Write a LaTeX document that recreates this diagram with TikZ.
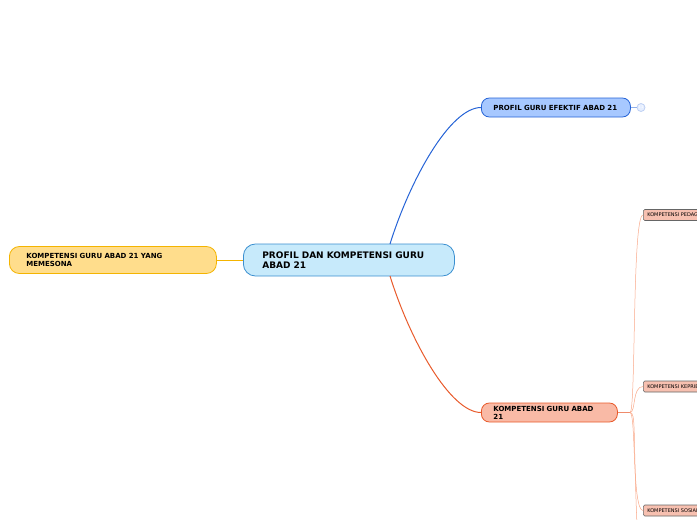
\documentclass[tikz,border=0pt]{standalone}
\usepackage{fontspec}
\setmainfont{DejaVu Sans}
\begin{document}
\begin{tikzpicture}[x=1pt,y=-1pt,
 box/.style={draw,rounded corners=8pt,line width=0.8pt,anchor=west,inner sep=0pt,font=\bfseries},
 sub/.style={draw=gray!80!black,fill=subfill,rounded corners=1.5pt,line width=0.6pt,anchor=west,minimum height=11pt,inner xsep=4pt,inner ysep=0pt,font=\fontsize{5}{5}\selectfont}]
\definecolor{cfill}{HTML}{C7EAFB}\definecolor{cdraw}{HTML}{3A8FD0}
\definecolor{yfill}{HTML}{FFDD8C}\definecolor{ydraw}{HTML}{F4B400}
\definecolor{bfill}{HTML}{A7C8FF}\definecolor{bdraw}{HTML}{2563D6}
\definecolor{ofill}{HTML}{F9BAA6}\definecolor{odraw}{HTML}{E85A2B}
\definecolor{subfill}{HTML}{F7C0B0}\definecolor{sline}{HTML}{F9A888}
\useasboundingbox (0,0) rectangle (697,520);
\clip (0,0) rectangle (697,520);
\node[box,fill=cfill,draw=cdraw,rounded corners=12pt,minimum height=32pt,text width=173pt,align=left,inner xsep=19pt,font=\fontsize{9}{10.5}\selectfont\bfseries] (c) at (243,260) {PROFIL DAN KOMPETENSI GURU\\ABAD 21};
\node[box,fill=yfill,draw=ydraw,rounded corners=10pt,minimum height=27pt,text width=173pt,align=left,inner xsep=17pt,font=\fontsize{7}{8}\selectfont\bfseries] (l) at (9,260) {KOMPETENSI GURU ABAD 21 YANG\\MEMESONA};
\node[box,fill=bfill,draw=bdraw,minimum height=19pt,text width=125pt,align=left,inner xsep=12pt,font=\fontsize{7}{8}\selectfont\bfseries] (t) at (481,107.5) {PROFIL GURU EFEKTIF ABAD 21};
\node[box,fill=ofill,draw=odraw,minimum height=19pt,text width=112pt,align=left,inner xsep=12pt,font=\fontsize{7}{8}\selectfont\bfseries] (b) at (481,412.5) {KOMPETENSI GURU ABAD 21};
\node[circle,draw=bdraw!30,fill=bfill!30,line width=0.8pt,minimum size=8pt,inner sep=0pt,text=white,font=\fontsize{4}{4}\selectfont] (n) at (641,107.5) {11};
\draw[bdraw!50,line width=0.8pt] (t.east) -- (n.west);
\node[sub] (s1) at (643,215) {KOMPETENSI PEDAGOGIK};
\node[sub] (s2) at (643,386.5) {KOMPETENSI KEPRIBADIAN};
\node[sub] (s3) at (643,510.5) {KOMPETENSI SOSIAL};
\coordinate (off) at (637,525);
\draw[ydraw,line width=1pt] (l.east) -- (c.west);
\draw[bdraw,line width=1pt] (390,244) .. controls (410,180) and (450,107.5) .. (t.west);
\draw[odraw,line width=1pt] (390,276) .. controls (410,340) and (450,412.5) .. (b.west);
\coordinate (h) at (630,412.5);
\draw[odraw!70,line width=1.5pt] (b.east) -- (h);
\draw[sline,line width=0.5pt] (h) .. controls (636,412.5) and (632,215) .. (s1.west);
\draw[sline,line width=0.5pt] (h) .. controls (636,412.5) and (632,386.5) .. (s2.west);
\draw[sline,line width=0.5pt] (h) .. controls (636,412.5) and (632,510.5) .. (s3.west);
\draw[sline,line width=0.5pt] (h) .. controls (636,412.5) and (633,430) .. (off);
\end{tikzpicture}
\end{document}
